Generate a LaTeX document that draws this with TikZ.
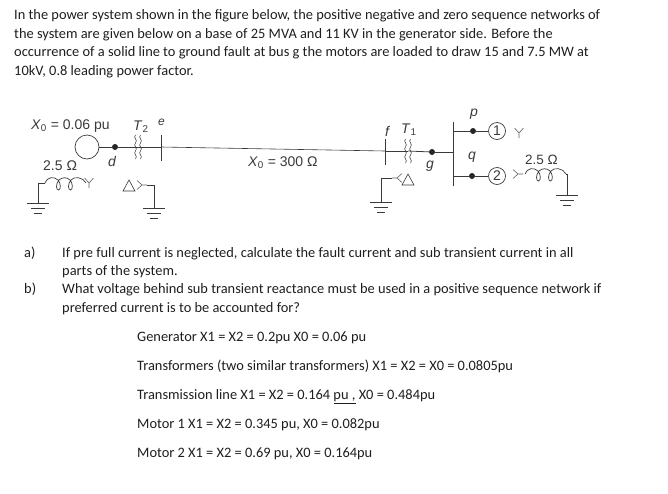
\documentclass[tikz,border=0pt]{standalone}
\usepackage{fontspec}
\setmainfont{Carlito}
\newfontfamily\diafont{Liberation Sans}
\definecolor{ink}{HTML}{1E1E1E}
\definecolor{wire}{HTML}{3A3A3A}
\newcommand{\xz}{\textit{X}\textsubscript{0}}
\tikzset{
  x=1pt,y=-1pt,
  para/.style={anchor=base west,inner sep=0pt,text=ink,font=\fontsize{14.4}{16}\selectfont},
  dia/.style={anchor=base west,inner sep=0pt,text=wire,font=\diafont\fontsize{14}{15}\selectfont},
  dial/.style={dia,font=\diafont\itshape\fontsize{14}{15}\selectfont},
  wireline/.style={draw=wire,line width=0.8pt},
  bus/.style={draw=wire,line width=0.9pt},
  busdot/.style={circle,fill=black!85,inner sep=0pt,minimum size=6pt},
  machine/.style={circle,draw=wire,line width=0.7pt,inner sep=0pt,font=\diafont\fontsize{14}{14}\selectfont,text=wire},
  coilsym/.pic={\draw[draw=wire,line width=0.7pt] (0,0)
     .. controls (2,-6) and (9,-7) .. (13,-3)
     .. controls (16,0) and (16,7) .. (13.5,7)
     .. controls (11,7) and (10.5,1) .. (14,-3)
     .. controls (17,-6) and (22,-6) .. (25,-3)
     .. controls (28,0) and (28,7) .. (25.5,7)
     .. controls (23,7) and (22.5,1) .. (26,-3)
     .. controls (29,-7) and (38,-6) .. (41,0);},
  ysym/.pic={\draw[draw=wire!80,line width=0.6pt] (0,0)--(0,5) (0,0)--(-4.5,-5) (0,0)--(4.5,-5);},
  deltasym/.pic={\draw[draw=wire,line width=0.6pt,line join=miter] (-6,5)--(0,-6)--(6,5)--cycle;},
  groundsym/.pic={\draw[draw=wire,line width=0.7pt] (-11,0)--(11,0) (-7,5)--(7,5) (-4,10)--(4,10);},
  xfmrsym/.pic={\foreach \sx in {-2.5,2.5}{\foreach \yy in {-12,-4,4}{
     \draw[draw=wire,line width=0.55pt] (\sx,\yy) .. controls (\sx-3,\yy+2.5) and (\sx+3,\yy+5) .. (\sx,\yy+8);}}},
}
\begin{document}
\begin{tikzpicture}
\useasboundingbox (0,0) rectangle (668,493);
% statement
\node[para] (s1) at (14,19) {In the power system shown in the figure below, the positive negative and zero sequence networks of};
\node[para] (s2) at (14,38) {the system are given below on a base of 25 MVA and 11 KV in the generator side. Before the};
\node[para] (s3) at (14,56) {occurrence of a solid line to ground fault at bus g the motors are loaded to draw 15 and 7.5 MW at};
\node[para] (s4) at (14,75) {10kV, 0.8 leading power factor.};
% diagram nodes
\node[machine,minimum size=24pt] (gen) at (87,147) {};
\node[busdot] (d) at (115,147) {};
\coordinate (t2) at (138,147);
\coordinate (e) at (161,147);
\coordinate (f) at (385,151);
\coordinate (t1) at (408,151);
\node[busdot] (g) at (432,152) {};
\coordinate (q) at (453,152);
\node[busdot] (p1) at (473,131) {};
\node[busdot] (q1) at (472,176) {};
\node[machine,minimum size=17pt] (m1) at (497,131) {1};
\node[machine,minimum size=17pt] (m2) at (497,176) {2};
\coordinate (qa) at (453,131);
\coordinate (qb) at (453,176);
% buses
\draw[bus] (161,135) -- (161,161);
\draw[bus] (385,139) -- (385,165);
\draw[bus] (453,122) -- (453,186);
% connectors
\draw[wireline] (gen) -- (d);
\draw[wireline] (d) -- (t2);
\draw[wireline] (t2) -- (e);
\draw[wireline,line width=0.6pt] (e) -- (f);
\draw[wireline] (f) -- (t1);
\draw[wireline] (t1) -- (g);
\draw[wireline] (g) -- (q);
\draw[wireline] (qa) -- (p1);
\draw[wireline] (p1) -- (m1);
\draw[wireline] (qb) -- (q1);
\draw[wireline] (q1) -- (m2);
\pic at (138,147) {xfmrsym};
\pic at (408,151) {xfmrsym};
% left generator earthing
\coordinate (gl) at (45,183);
\coordinate (gg) at (38,203);
\pic at (gg) {groundsym};
\draw[wireline] (gg) |- (gl);
\pic at (gl) {coilsym};
\pic at (89,183) {ysym};
% T2 earthing
\pic at (129,186) {deltasym};
\pic[rotate=90] at (142,185) {ysym};
\coordinate (t2w) at (147,185);
\coordinate (t2g) at (154,208);
\draw[wireline] (t2w) -| (t2g);
\pic at (t2g) {groundsym};
% T1 earthing
\pic at (408,180) {deltasym};
\pic[rotate=-90] at (397,178) {ysym};
\coordinate (t1w) at (392,178);
\coordinate (t1g) at (381,202);
\draw[wireline] (t1w) -| (t1g);
\pic at (t1g) {groundsym};
% motor earthing
\pic at (519,133) {ysym};
\pic[rotate=90] at (518,174) {ysym};
\coordinate (mw) at (525,174);
\coordinate (mc) at (566,174);
\coordinate (mg) at (567,195);
\pic at (mw) {coilsym};
\draw[wireline] (mc) -| (mg);
\pic at (mg) {groundsym};
% diagram labels
\node[dia] (l1) at (31,129) {\xz{} = 0.06 pu};
\node[dia] (l2) at (133,130) {\textit{T}\textsubscript{2}};
\node[dial,font=\diafont\itshape\fontsize{12}{12}\selectfont] (l3) at (158,125) {e};
\node[dia] (l4) at (43,170) {2.5 Ω};
\node[dial] (l5) at (108,166) {d};
\node[dia] (l6) at (248,166) {\xz{} = 300 Ω};
\node[dial] (l7) at (385,136) {f};
\node[dia] (l8) at (401,133) {\textit{T}\textsubscript{1}};
\node[dial] (l9) at (426,168) {g};
\node[dial] (l10) at (470,116) {p};
\node[dial] (l11) at (468,159) {q};
\node[dia,font=\diafont\fontsize{13.5}{14}\selectfont] (l12) at (525,164) {2.5 Ω};
% questions
\node[para] (q0) at (24,257) {a)};
\node[para] (q2) at (62,257) {If pre full current is neglected, calculate the fault current and sub transient current in all};
\node[para] (q3) at (62,275) {parts of the system.};
\node[para] (q4) at (24,293) {b)};
\node[para] (q5) at (62,293) {What voltage behind sub transient reactance must be used in a positive sequence network if};
\node[para] (q6) at (62,312) {preferred current is to be accounted for?};
% data
\node[para] (c1) at (137,341) {Generator X1 = X2 = 0.2pu X0 = 0.06 pu};
\node[para] (c2) at (137,370) {Transformers (two similar transformers) X1 = X2 = X0 = 0.0805pu};
\node[para] (c3) at (137,399) {Transmission line X1 = X2 = 0.164 \underline{pu ,} X0 = 0.484pu};
\node[para] (c4) at (137,428) {Motor 1 X1 = X2 = 0.345 pu, X0 = 0.082pu};
\node[para] (c5) at (137,457) {Motor 2 X1 = X2 = 0.69 pu, X0 = 0.164pu};
\end{tikzpicture}
\end{document}
